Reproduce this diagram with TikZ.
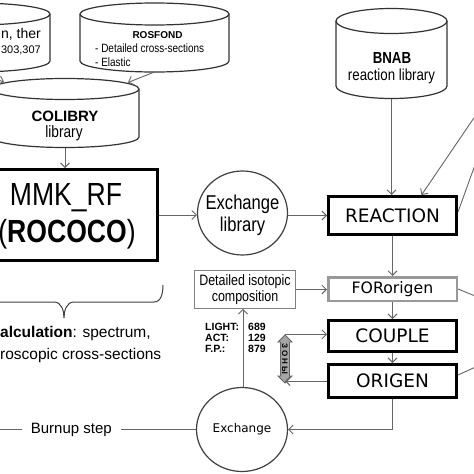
\documentclass[tikz,border=0pt]{standalone}
\usepackage{fontspec}
\setmainfont{Liberation Sans}
\newfontfamily\narrowf{Liberation Sans}[FakeStretch=0.83]
\newfontfamily\tahf{DejaVu Sans}
\usetikzlibrary{shapes.geometric,shapes.arrows,arrows.meta}

\newcommand{\dbcyl}[6]{%
  \filldraw[cylst] (#2-#3,#4) -- (#2-#3,#5)
    arc[start angle=180,end angle=360,x radius=#3pt,y radius=#6pt]
    -- (#2+#3,#4)
    arc[start angle=0,end angle=180,x radius=#3pt,y radius=#6pt] -- cycle;
  \draw[cylst] (#2+#3,#4) arc[start angle=0,end angle=-180,x radius=#3pt,y radius=#6pt];
  \coordinate (#1-top) at (#2,#4-#6);
  \coordinate (#1-bot) at (#2,#5+#6);
}

\begin{document}
\begin{tikzpicture}[x=1pt,y=-1pt,
  conn/.style={draw=black!60, line width=0.9pt, -{Straight Barb[length=4.5pt,width=9pt]}},
  plain/.style={draw=black!60, line width=0.9pt},
  cylst/.style={draw=black!80, line width=1.2pt, fill=white},
  mainbox/.style={draw=black, line width=3pt, minimum width=128pt, inner sep=0pt,
    font=\tahf\fontsize{18.5}{20}\selectfont},
  grbox/.style={draw=black!40, line width=2.5pt, minimum width=128.5pt, minimum height=23.5pt,
    inner sep=0pt, font=\tahf\fontsize{15.7}{18}\selectfont},
  oval/.style={ellipse, draw=black!75, line width=1.2pt, inner sep=0pt},
  txt/.style={inner sep=0pt}]

\fill[white] (0,0) rectangle (474,474);
\useasboundingbox (0,0) rectangle (474,474);

% databases
\dbcyl{cylA}{-25}{75}{14}{61}{11}
\dbcyl{rosfond}{154.5}{74.5}{14}{61}{11}
\dbcyl{colibry}{65}{74}{89}{137}{10.5}
\dbcyl{bnab}{391.5}{55.5}{21}{86}{12.5}

\node[txt, anchor=base east, font=\fontsize{14}{16}\selectfont] (cylAa) at (41,38) {n, ther};
\node[txt, anchor=base east, font=\fontsize{11}{13}\selectfont] (cylAb) at (41,53) {303,307};

\node[txt, anchor=base, font=\bfseries\fontsize{10}{12}\selectfont] (rosA) at (157.5,38) {ROSFOND};
\node[txt, anchor=base west, font=\narrowf\fontsize{12}{13}\selectfont] (rosB) at (95,52.5) {- Detailed cross-sections};
\node[txt, anchor=base west, font=\narrowf\fontsize{12}{13}\selectfont] (rosC) at (95,66) {- Elastic};

\node[txt, anchor=base, font=\bfseries\fontsize{15}{17}\selectfont] (colA) at (65,121) {COLIBRY};
\node[txt, anchor=base, font=\narrowf\fontsize{16.5}{18}\selectfont] (colB) at (64,137) {library};

\node[txt, anchor=base, font=\narrowf\bfseries\fontsize{16}{18}\selectfont] (bnabA) at (392,63) {BNAB};
\node[txt, anchor=base, font=\narrowf\fontsize{16}{18}\selectfont] (bnabB) at (391.5,80) {reaction library};

% MMK_RF box
\node[draw=black, line width=3pt, minimum width=183pt, minimum height=91pt, inner sep=0pt] (mmk) at (66,215) {};
\node[txt, anchor=base, font=\narrowf\fontsize{32}{36}\selectfont] (mmkA) at (66,205) {MMK\_RF};
\node[txt, anchor=base, font=\narrowf\fontsize{32}{36}\selectfont] (mmkB) at (67,242) {(\textbf{ROCOCO})};

% exchange library
\node[oval, minimum width=90pt, minimum height=84pt] (exlib) at (242.5,213) {};
\node[txt, anchor=base, font=\narrowf\fontsize{20}{22}\selectfont] (exlibA) at (242.5,209.5) {Exchange};
\node[txt, anchor=base, font=\narrowf\fontsize{20}{22}\selectfont] (exlibB) at (242.5,231) {library};

% main chain
\node[mainbox, minimum height=38pt] (reaction) at (392.5,215.5) {REACTION};
\node[grbox] (fororigen) at (392.5,289) {FORorigen};
\node[mainbox, minimum height=31pt] (couple) at (392.5,336) {COUPLE};
\node[mainbox, minimum height=33pt] (origen) at (392.5,381) {ORIGEN};

% detailed isotopic composition
\node[draw=black!50, line width=0.9pt, minimum width=101pt, minimum height=38pt, inner sep=0pt,
  align=center, font=\narrowf\fontsize{15}{16.5}\selectfont] (detail) at (245,289.5)
  {Detailed isotopic\\composition};

\node[txt, anchor=north west, align=left, font=\bfseries\fontsize{10.5}{11}\selectfont] (labs) at (205,323) {LIGHT:\\ACT:\\F.P.:};
\node[txt, anchor=north west, align=left, font=\bfseries\fontsize{10.5}{11}\selectfont] (nums) at (248,323) {689\\129\\879};

% exchange
\node[oval, minimum width=91pt, minimum height=84pt, font=\tahf\fontsize{12}{14}\selectfont] (exch) at (242,429.5) {Exchange};

% zones double arrow
\node[double arrow, draw=black!60, fill=black!35, line width=0.8pt, double arrow head extend=2.5pt,
  minimum height=48pt, minimum width=14pt, inner sep=1pt, rotate=-90,
  font=\bfseries\fontsize{8}{8}\selectfont] (zony) at (285,359) {З\kern2ptО\kern2ptН\kern2ptЫ};

% brace
\draw[draw=black!75, line width=1pt] (163,285) to[out=-90,in=0] (154,302) -- (74,302)
  to[out=180,in=90] (64,318) to[out=90,in=0] (54,302) -- (-40,302);

\node[txt, anchor=base west, font=\fontsize{15.5}{17}\selectfont] (calcA) at (0,337) {\textbf{alculation}: spectrum,};
\node[txt, anchor=base west, font=\fontsize{15.5}{17}\selectfont] (calcB) at (0,359) {roscopic cross-sections};

% coordinates for free ends
\coordinate (ctl) at (4,82);
\coordinate (ctr) at (128,82.5);
\coordinate (ne1) at (480,109);
\coordinate (ne2) at (480,151);
\coordinate (ne3) at (480,298);
\coordinate (ne4) at (480,365);
\coordinate (bstart) at (-5,429.5);

% connectors
\draw[conn] (cylA-bot) -- (ctl);
\draw[conn] (rosfond-bot) -- (ctr);
\draw[conn] (colibry-bot) -- (colibry-bot |- mmk.north);
\draw[conn] (mmk.east) -- (mmk.east -| exlib.west);
\draw[conn] (exlib.east |- reaction.west) -- (reaction.west);
\draw[conn] (bnab-bot) -- (bnab-bot |- reaction.north);
\draw[conn] (ne1) -- ([xshift=29pt]reaction.north);
\draw[plain] ([yshift=3.5pt]reaction.east) -- (ne2);
\draw[conn] (reaction.south) -- (fororigen.north);
\draw[plain] (fororigen.east) -- (ne3);
\draw[conn] (detail.east) -- (detail.east -| fororigen.west);
\draw[conn] (fororigen.south) -- (couple.north);
\draw[conn] (couple.south) -- (origen.north);
\draw[plain] ([yshift=6pt]origen.east) -- (ne4);
\draw[conn] (zony.west) -- (zony.west -| couple.west);
\draw[conn] (origen.west) -- (origen.west -| zony.center);
\draw[conn] (origen.south) |- (exch.east);
\draw[conn] ([xshift=1pt]exch.north) -- ([xshift=1pt]exch.north |- detail.south);
\draw[plain] (bstart) -- node[pos=0.38, fill=white, inner xsep=9pt, inner ysep=2pt,
  font=\fontsize{15}{17}\selectfont] (burnup) {Burnup step} (exch.west);

\end{tikzpicture}
\end{document}
